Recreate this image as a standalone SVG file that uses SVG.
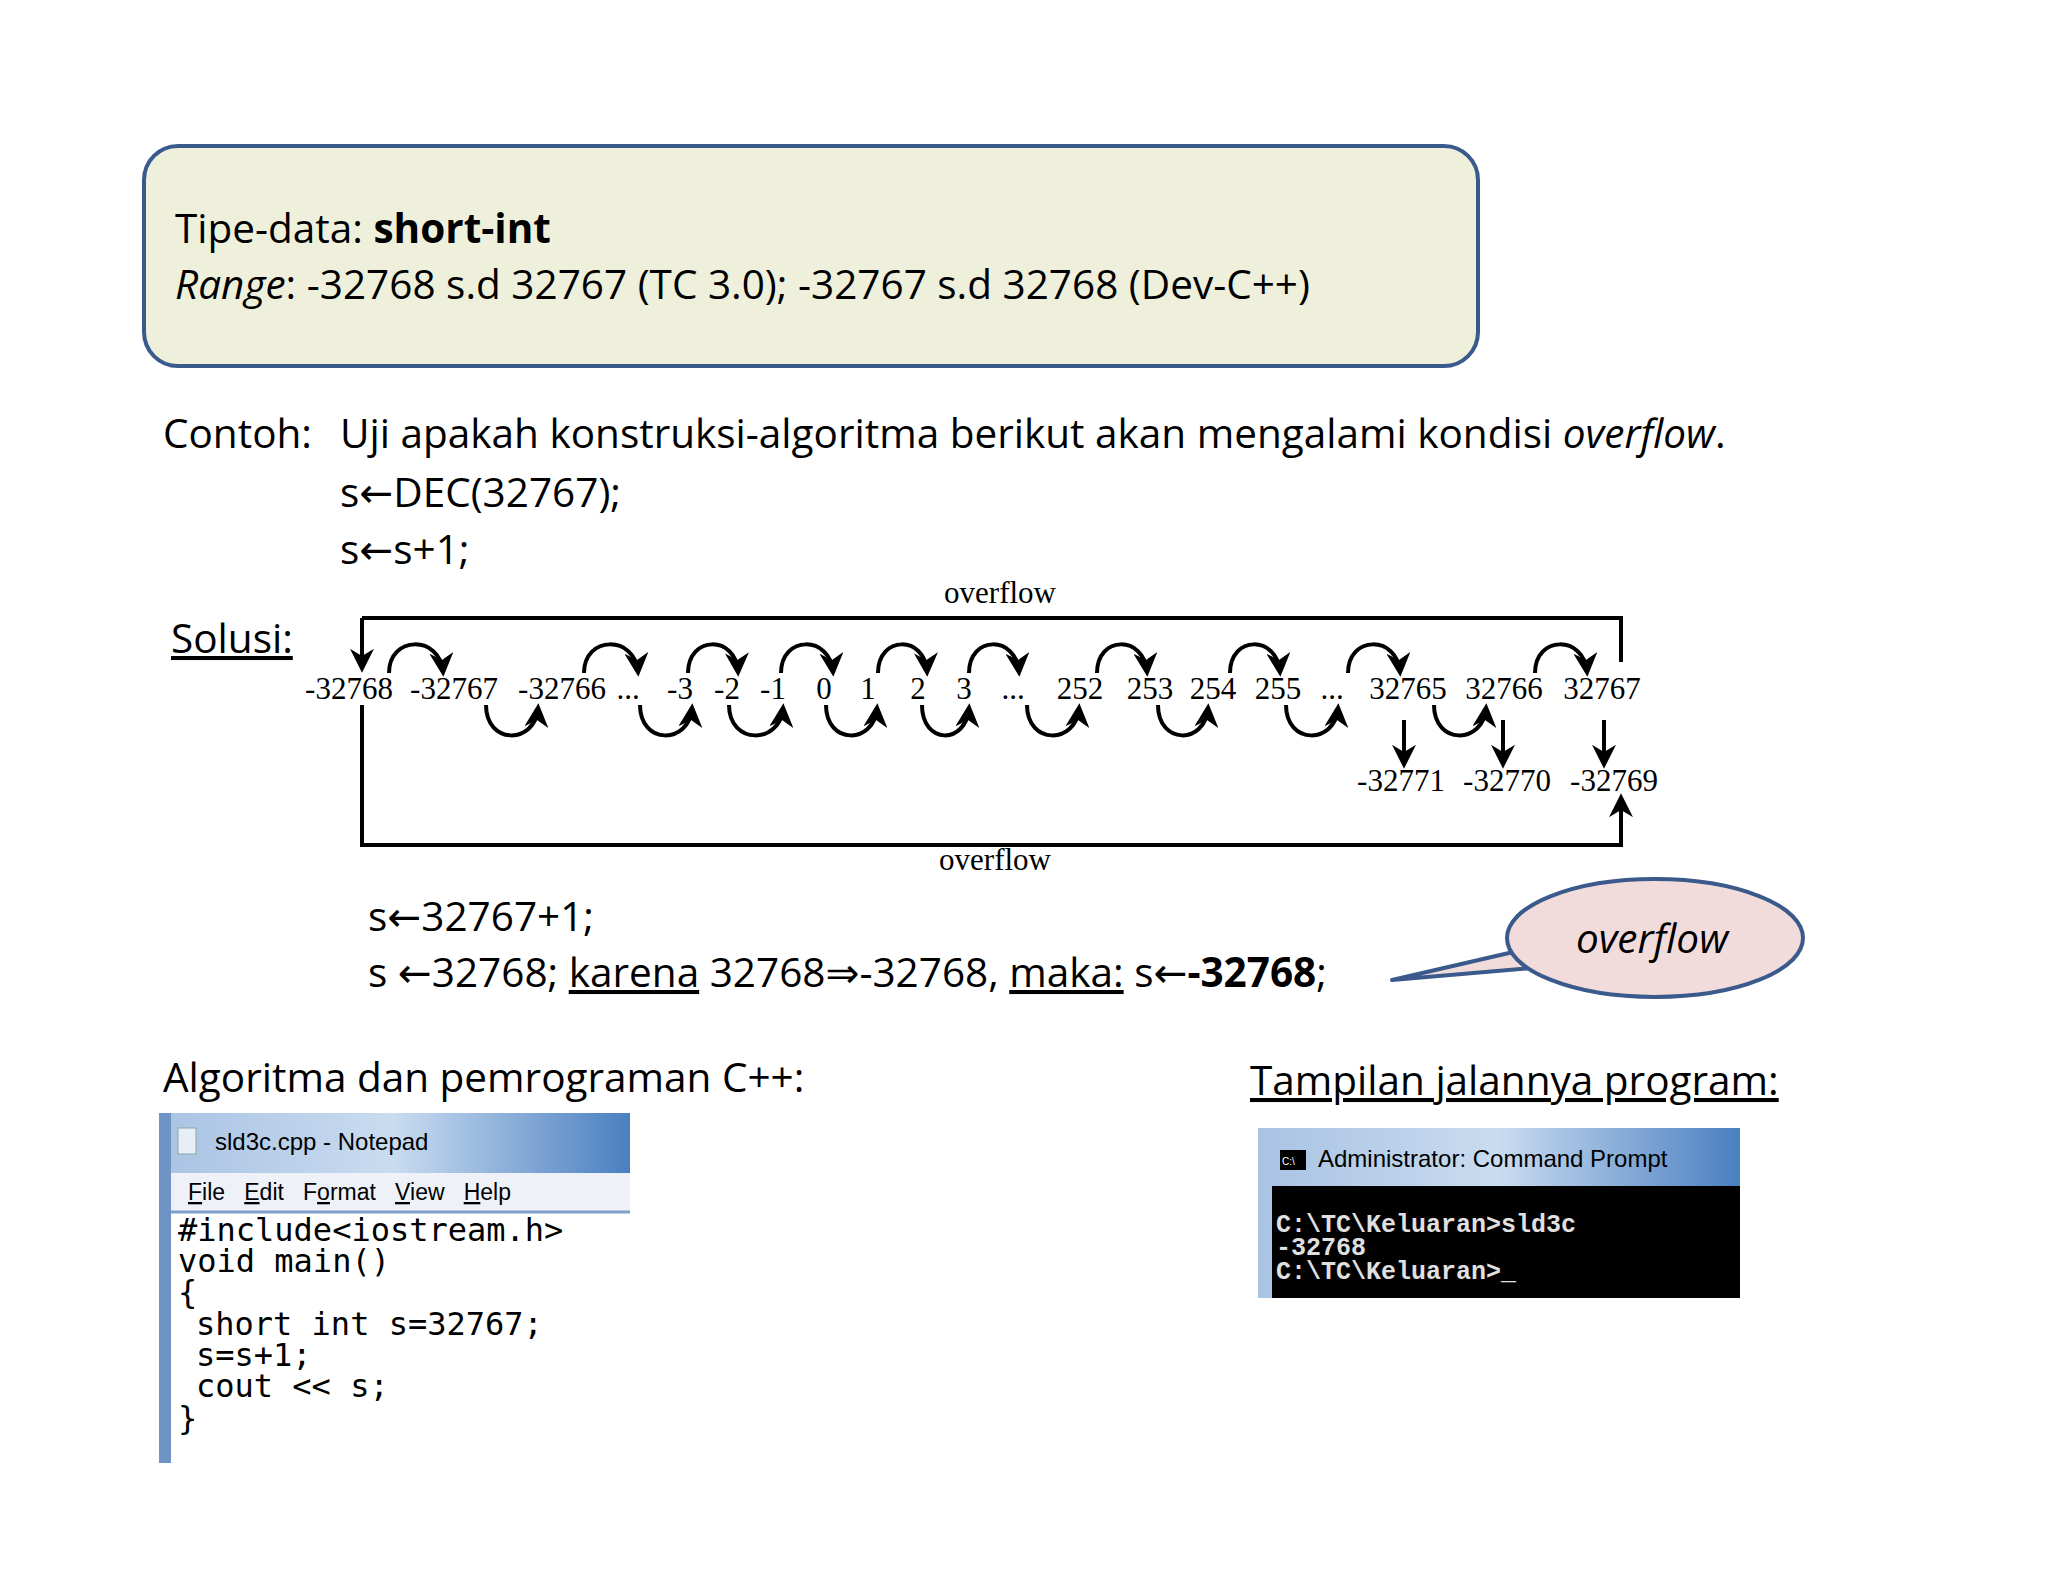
<svg xmlns="http://www.w3.org/2000/svg" width="2048" height="1582" viewBox="0 0 2048 1582">
<defs>
<marker id="ah" viewBox="0 0 10 10" refX="8" refY="5" markerWidth="6" markerHeight="6" orient="auto-start-reverse" markerUnits="strokeWidth"><path d="M0,0 L10,5 L0,10 L3,5 z" fill="#000"/></marker>
<linearGradient id="tb" x1="0" y1="0" x2="1" y2="0"><stop offset="0" stop-color="#a9c3e3"/><stop offset="0.5" stop-color="#c9dcf0"/><stop offset="1" stop-color="#4a7fc1"/></linearGradient>
</defs>
<style>
.s{font-family:"Open Sans","Liberation Sans",sans-serif;font-size:40.5px;fill:#000}
.a{font-family:"DejaVu Sans",sans-serif}
.n{font-family:"Liberation Serif",serif;font-size:31px;fill:#000}
.arc{fill:none;stroke:#000;stroke-width:4;marker-end:url(#ah)}
.ln{fill:none;stroke:#000;stroke-width:4}
.code{font-family:"DejaVu Sans Mono","Liberation Mono",monospace;font-size:32px;fill:#000}
.cmd{font-family:"Liberation Mono",monospace;font-size:25px;font-weight:bold;fill:#e0e0e0}
</style>
<rect width="2048" height="1582" fill="#fff"/>
<g id="header">
<rect x="144" y="146" width="1334" height="220" rx="34" fill="#eef0dc" stroke="#3b5a8c" stroke-width="4"/>
<text class="s" x="175" y="243">Tipe-data: <tspan font-weight="bold">short-int</tspan></text>
<text class="s" x="175" y="299"><tspan font-style="italic">Range</tspan>: -32768 s.d 32767 (TC 3.0); -32767 s.d 32768 (Dev-C++)</text>
</g>
<g id="contoh">
<text class="s" x="163" y="448">Contoh:</text>
<text class="s" x="340" y="448">Uji apakah konstruksi-algoritma berikut akan mengalami kondisi <tspan font-style="italic">overflow</tspan>.</text>
<text class="s" x="340" y="507">s<tspan class="a">←</tspan>DEC(32767);</text>
<text class="s" x="340" y="564">s<tspan class="a">←</tspan>s+1;</text>
<text class="s" x="171" y="653" text-decoration="underline">Solusi:</text>
</g>
<g id="numbers" text-anchor="middle">
<text class="n" x="349" y="699">-32768</text><text class="n" x="454" y="699">-32767</text><text class="n" x="562" y="699">-32766</text><text class="n" x="628" y="699">...</text>
<text class="n" x="680" y="699">-3</text><text class="n" x="727" y="699">-2</text><text class="n" x="773" y="699">-1</text><text class="n" x="824" y="699">0</text>
<text class="n" x="868" y="699">1</text><text class="n" x="918" y="699">2</text><text class="n" x="964" y="699">3</text><text class="n" x="1013" y="699">...</text>
<text class="n" x="1080" y="699">252</text><text class="n" x="1150" y="699">253</text><text class="n" x="1213" y="699">254</text><text class="n" x="1278" y="699">255</text>
<text class="n" x="1332" y="699">...</text><text class="n" x="1408" y="699">32765</text><text class="n" x="1504" y="699">32766</text><text class="n" x="1602" y="699">32767</text>
<text class="n" x="1401" y="791">-32771</text><text class="n" x="1507" y="791">-32770</text><text class="n" x="1614" y="791">-32769</text>
<text class="n" x="1000" y="603">overflow</text><text class="n" x="995" y="870">overflow</text>
</g>
<g id="connectors">
<path class="ln" d="M362,618 H1621 V662"/>
<path class="ln" d="M362,618 V668" marker-end="url(#ah)"/>
<path class="ln" d="M362,705 V845 H1621 V798" marker-end="url(#ah)"/>
<path class="ln" d="M1404,720 V764" marker-end="url(#ah)"/>
<path class="ln" d="M1503,720 V764" marker-end="url(#ah)"/>
<path class="ln" d="M1604,720 V764" marker-end="url(#ah)"/>
<g id="upper">
<path class="arc" d="M389,673 C389,635 440,635 443,672"/>
<path class="arc" d="M584,673 C584,635 635,635 638,672"/>
<path class="arc" d="M688,673 C688,635 736,635 738,672"/>
<path class="arc" d="M781,673 C781,635 830,635 833,672"/>
<path class="arc" d="M878,673 C878,635 925,635 927,672"/>
<path class="arc" d="M969,673 C969,635 1016,635 1019,672"/>
<path class="arc" d="M1097,673 C1097,635 1144,635 1147,672"/>
<path class="arc" d="M1230,673 C1230,635 1277,635 1280,672"/>
<path class="arc" d="M1348,673 C1348,635 1397,635 1400,672"/>
<path class="arc" d="M1535,673 C1535,635 1584,635 1587,672"/>
</g>
<g id="lower">
<path class="arc" d="M486,705 C486,745 535,745 538,708"/>
<path class="arc" d="M640,705 C640,745 689,745 692,708"/>
<path class="arc" d="M729,705 C729,745 780,745 783,708"/>
<path class="arc" d="M826,705 C826,745 874,745 877,708"/>
<path class="arc" d="M922,705 C922,745 966,745 969,708"/>
<path class="arc" d="M1027,705 C1027,745 1076,745 1079,708"/>
<path class="arc" d="M1158,705 C1158,745 1205,745 1208,708"/>
<path class="arc" d="M1286,705 C1286,745 1335,745 1338,708"/>
<path class="arc" d="M1434,705 C1434,745 1483,745 1486,708"/>
</g>
</g>
<g id="steps">
<text class="s" x="368" y="931">s<tspan class="a">←</tspan>32767+1;</text>
<text class="s" x="368" y="987">s <tspan class="a">←</tspan>32768; <tspan text-decoration="underline">karena</tspan> 32768<tspan class="a">⇒</tspan>-32768, <tspan text-decoration="underline">maka:</tspan> s<tspan class="a">←</tspan><tspan font-weight="bold">-32768</tspan>;</text>
</g>
<g id="callout">
<path d="M1533,968 L1392,980 L1522,950 Z" fill="#f2dcdb" stroke="#3b5a8c" stroke-width="4" stroke-linejoin="round"/>
<ellipse cx="1655" cy="938" rx="148" ry="59" fill="#f2dcdb" stroke="#3b5a8c" stroke-width="4"/>
<path d="M1525,952 L1540,966" stroke="#f2dcdb" stroke-width="8"/>
<text class="s" x="1652" y="953" text-anchor="middle" font-style="italic">overflow</text>
</g>
<g id="labels">
<text class="s" x="163" y="1092">Algoritma dan pemrograman C++:</text>
<text class="s" x="1250" y="1095" text-decoration="underline">Tampilan jalannya program:</text>
</g>
<g id="notepad">
<rect x="159" y="1113" width="471" height="350" fill="#fff"/>
<rect x="159" y="1113" width="471" height="60" fill="url(#tb)"/>
<rect x="159" y="1113" width="12" height="350" fill="#6f93c4"/>
<rect x="178" y="1128" width="18" height="26" fill="#e8eef6" stroke="#8aa" stroke-width="1"/>
<text x="215" y="1150" font-family="Liberation Sans,sans-serif" font-size="24" fill="#000">sld3c.cpp - Notepad</text>
<rect x="171" y="1173" width="459" height="38" fill="#eef1f8"/>
<line x1="171" y1="1212" x2="630" y2="1212" stroke="#7ea0cc" stroke-width="3"/>
<text x="188" y="1200" font-family="Liberation Sans,sans-serif" font-size="23" fill="#000" xml:space="preserve"><tspan text-decoration="underline">F</tspan>ile   <tspan text-decoration="underline">E</tspan>dit   F<tspan text-decoration="underline">o</tspan>rmat   <tspan text-decoration="underline">V</tspan>iew   <tspan text-decoration="underline">H</tspan>elp</text>
<text class="code" x="178" y="1241">#include&lt;iostream.h&gt;</text>
<text class="code" x="178" y="1272">void main()</text>
<text class="code" x="178" y="1303">{</text>
<text class="code" x="196" y="1335">short int s=32767;</text>
<text class="code" x="196" y="1366">s=s+1;</text>
<text class="code" x="196" y="1397">cout &lt;&lt; s;</text>
<text class="code" x="178" y="1429">}</text>
</g>
<g id="cmd">
<rect x="1258" y="1128" width="482" height="170" fill="url(#tb)"/>
<rect x="1272" y="1186" width="468" height="112" fill="#000"/>
<rect x="1280" y="1150" width="26" height="20" fill="#000"/>
<text x="1282" y="1165" font-family="Liberation Sans,sans-serif" font-size="10" fill="#fff">C:\</text>
<text x="1318" y="1167" font-family="Liberation Sans,sans-serif" font-size="24" fill="#000">Administrator: Command Prompt</text>
<text class="cmd" x="1276" y="1232">C:\TC\Keluaran&gt;sld3c</text>
<text class="cmd" x="1276" y="1255">-32768</text>
<text class="cmd" x="1276" y="1279">C:\TC\Keluaran&gt;_</text>
</g>
</svg>
